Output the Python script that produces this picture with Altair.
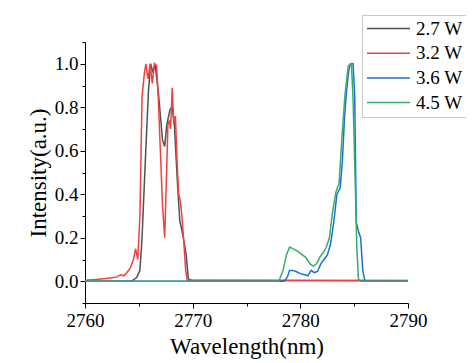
import altair as alt
import pandas as pd

# ---- data ----
series_names = ["2.7 W", "3.2 W", "3.6 W", "4.5 W"]
series_colors = ["#515151", "#F14040", "#1A6FDF", "#37AD6B"]

wl_27 = [2760, 2764.3, 2764.8, 2765.1, 2765.3, 2765.6, 2765.9, 2766.1, 2766.3, 2766.5,
         2766.8, 2767.2, 2767.4, 2767.6, 2767.9, 2768.1, 2768.3, 2768.6, 2768.8, 2769.1,
         2769.4, 2769.6, 2770, 2790]
in_27 = [0, 0, 0.017, 0.05, 0.2, 0.55, 0.88, 1.0, 0.96, 1.0,
         0.875, 0.65, 0.62, 0.72, 0.79, 0.8, 0.72, 0.44, 0.28, 0.21,
         0.12, 0.01, 0.003, 0.003]

wl_32 = [2760, 2761, 2762, 2762.5, 2763, 2763.3, 2763.6, 2763.9, 2764.2, 2764.5,
         2764.7, 2764.9, 2765.1, 2765.3, 2765.5, 2765.65, 2765.85, 2766.05, 2766.25, 2766.45,
         2766.65, 2766.8, 2767.0, 2767.2, 2767.4, 2767.55, 2767.7, 2767.85, 2767.95, 2768.1,
         2768.25, 2768.4, 2768.55, 2768.7, 2768.85, 2769.0, 2769.15, 2769.35, 2769.5, 2772,
         2780, 2790]
in_32 = [0.005, 0.008, 0.013, 0.016, 0.02, 0.03, 0.025, 0.04, 0.06, 0.1,
         0.15, 0.1, 0.3, 0.85, 0.95, 1.0, 0.93, 1.0, 0.91, 1.0,
         0.99, 0.85, 0.6, 0.35, 0.2, 0.45, 0.72, 0.74, 0.7, 0.89,
         0.72, 0.76, 0.55, 0.4, 0.37, 0.3, 0.2, 0.05, 0.005, 0.005,
         0.004, 0.002]

wl_36 = [2760, 2778.5, 2778.8, 2779.0, 2779.3, 2779.6, 2780.0, 2780.4, 2780.7, 2781.0,
         2781.3, 2781.6, 2781.9, 2782.2, 2782.5, 2782.8, 2783.1, 2783.4, 2783.7, 2783.9,
         2784.1, 2784.3, 2784.5, 2784.65, 2784.9, 2785.05, 2785.2, 2785.4, 2785.6, 2785.8,
         2786, 2790]
in_36 = [0, 0, 0.02, 0.05, 0.05, 0.045, 0.035, 0.03, 0.025, 0.05,
         0.04, 0.045, 0.08, 0.1, 0.12, 0.17, 0.27, 0.4, 0.43, 0.55,
         0.75, 0.88, 0.97, 1.0, 1.0, 0.85, 0.27, 0.23, 0.2, 0.05,
         0, 0]

wl_45 = [2760, 2778.0, 2778.4, 2778.7, 2779.0, 2779.3, 2779.7, 2780.1, 2780.5, 2780.9,
         2781.2, 2781.5, 2781.8, 2782.1, 2782.4, 2782.7, 2783.0, 2783.3, 2783.6, 2783.85,
         2784.15, 2784.45, 2784.75, 2784.9, 2785.1, 2785.25, 2785.4, 2785.6, 2790]
in_45 = [0, 0, 0.05, 0.12, 0.157, 0.15, 0.14, 0.125, 0.11, 0.08,
         0.07, 0.08, 0.11, 0.13, 0.155, 0.2, 0.32, 0.41, 0.45, 0.65,
         0.86, 0.99, 1.0, 0.83, 0.45, 0.15, 0.01, 0, 0]

x_ticks = [2760, 2765, 2770, 2775, 2780, 2785, 2790]
y_ticks = [-0.1, 0.0, 0.1, 0.2, 0.3, 0.4, 0.5, 0.6, 0.7, 0.8, 0.9, 1.0, 1.1]

rows = []
for name, wls, ins in zip(series_names, [wl_27, wl_32, wl_36, wl_45],
                          [in_27, in_32, in_36, in_45]):
    for w, v in zip(wls, ins):
        rows.append({"series": name, "wl": w, "val": v})
df = pd.DataFrame(rows)

FONT = "Liberation Serif"

x_axis = alt.Axis(
    values=x_ticks,
    format="d",
    labelExpr="datum.value % 10 === 0 ? datum.label : ''",
    tickSize={"condition": {"test": "datum.value % 10 === 0", "value": 5}, "value": 3},
    grid=False, domainColor="#000000", tickColor="#000000", domainWidth=1, tickWidth=1,
    labelFont=FONT, labelFontSize=19, labelColor="#000000", labelPadding=3,
    labelFlush=False, labelOverlap=False, labelBound=False,
    title="Wavelength(nm)", titleFont=FONT, titleFontSize=23, titleFontWeight="normal",
    titleColor="#000000", titlePadding=5,
)
y_axis = alt.Axis(
    values=y_ticks,
    format=".1f",
    labelExpr="(round(datum.value*10) % 2 === 0 && datum.value > -0.05 && datum.value < 1.05) ? datum.label : ''",
    tickSize={"condition": {"test": "round(datum.value*10) % 2 === 0", "value": 5}, "value": 3},
    grid=False, domainColor="#000000", tickColor="#000000", domainWidth=1, tickWidth=1,
    labelFont=FONT, labelFontSize=19, labelColor="#000000", labelPadding=2,
    labelFlush=False, labelOverlap=False, labelBound=False,
    title="Intensity(a.u.)", titleFont=FONT, titleFontSize=23, titleFontWeight="normal",
    titleColor="#000000", titlePadding=4,
)

chart = alt.Chart(df).mark_line(strokeWidth=1.5).encode(
    x=alt.X("wl:Q", scale=alt.Scale(domain=[2760, 2790], nice=False, zero=False), axis=x_axis),
    y=alt.Y("val:Q", scale=alt.Scale(domain=[-0.1, 1.1], nice=False, zero=False), axis=y_axis),
    color=alt.Color(
        "series:N",
        scale=alt.Scale(domain=series_names, range=series_colors),
        legend=alt.Legend(
            title=None, orient="none", legendX=277, legendY=-27,
            symbolType="stroke", symbolSize=1849, symbolStrokeWidth=1.5,
            labelFont=FONT, labelFontSize=19, labelColor="#000000", labelOffset=5,
            clipHeight=19, rowPadding=4.7, padding=4,
            strokeColor="#c8c8c8", fillColor="#ffffff",
        ),
    ),
    detail="series:N",
).properties(
    width=323, height=261,
    autosize=alt.AutoSizeParams(type="none"),
    padding={"left": 77, "top": 34, "right": 58, "bottom": 58},
).configure_view(strokeWidth=0)

chart.save("out.html", embed_options={"renderer": "svg", "actions": False})
